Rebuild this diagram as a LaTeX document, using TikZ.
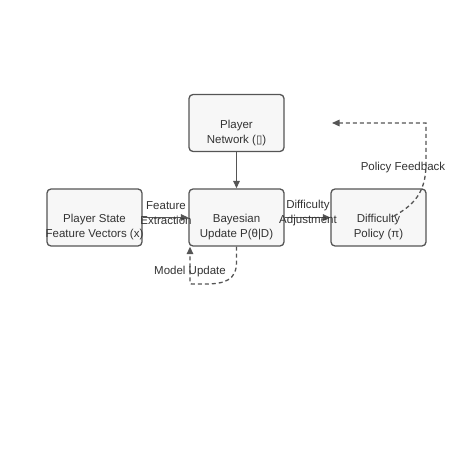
\documentclass[tikz,border=0pt]{standalone}
\usepackage{fontspec}
\setmainfont{Liberation Sans}
\newfontfamily\symfont{DejaVu Sans}
\usetikzlibrary{arrows.meta}
\definecolor{txtc}{HTML}{333333}
\definecolor{linec}{HTML}{555555}
\definecolor{boxfill}{HTML}{F7F7F7}
\tikzset{
  boxnode/.style={draw=linec, line width=1.3pt, fill=boxfill, rounded corners=4pt, minimum width=95pt, minimum height=57pt, inner sep=0pt},
  txt/.style={text=txtc, font=\fontsize{11.5pt}{14.5pt}\selectfont, align=center, inner sep=0pt},
  conn/.style={draw=linec, line width=1.3pt, -{Triangle[length=7.5pt,width=6.5pt]}},
  dconn/.style={conn, dash pattern=on 4pt off 3pt}
}
\begin{document}
\begin{tikzpicture}[x=1pt,y=1pt]
\useasboundingbox (0,0) rectangle (474,474);
\node[boxnode] (net) at (236.5,351) {};
\node[boxnode] (ps) at (94.5,256.5) {};
\node[boxnode] (bay) at (236.5,256.5) {};
\node[boxnode] (pol) at (378.5,256.5) {};
\node[txt] (nett) at (236.5,341) {Player\\Network ({\symfont ▯})};
\node[txt] (pst) at (94.5,247) {Player State\\Feature Vectors (x)};
\node[txt] (bayt) at (236.5,247) {Bayesian\\Update P(θ|D)};
\node[txt] (polt) at (378.5,247) {Difficulty\\Policy (π)};
\draw[conn] (net) -- (bay);
\draw[conn] (ps) -- (bay);
\draw[conn] (bay) -- (pol);
\coordinate (mu1) at (190,190);
\coordinate (pf1) at (332,351);
\draw[dconn] (bay.south) -- (236.5,212) .. controls (236.5,194) and (225,190) .. (205,190) -- (192,190) .. controls (190,190) .. (190,192) -- (bay.south -| mu1);
\draw[dconn] (394,258) .. controls (412,268) and (426,280) .. (426,310) -- (426,351) -- (pf1);
\node[txt] (fe) at (166,261) {Feature\\Extraction};
\node[txt] (da) at (308,261) {Difficulty\\Adjustment};
\node[txt] (mu) at (190,202) {Model Update};
\node[txt] (pf) at (403,306) {Policy Feedback};
\end{tikzpicture}
\end{document}
